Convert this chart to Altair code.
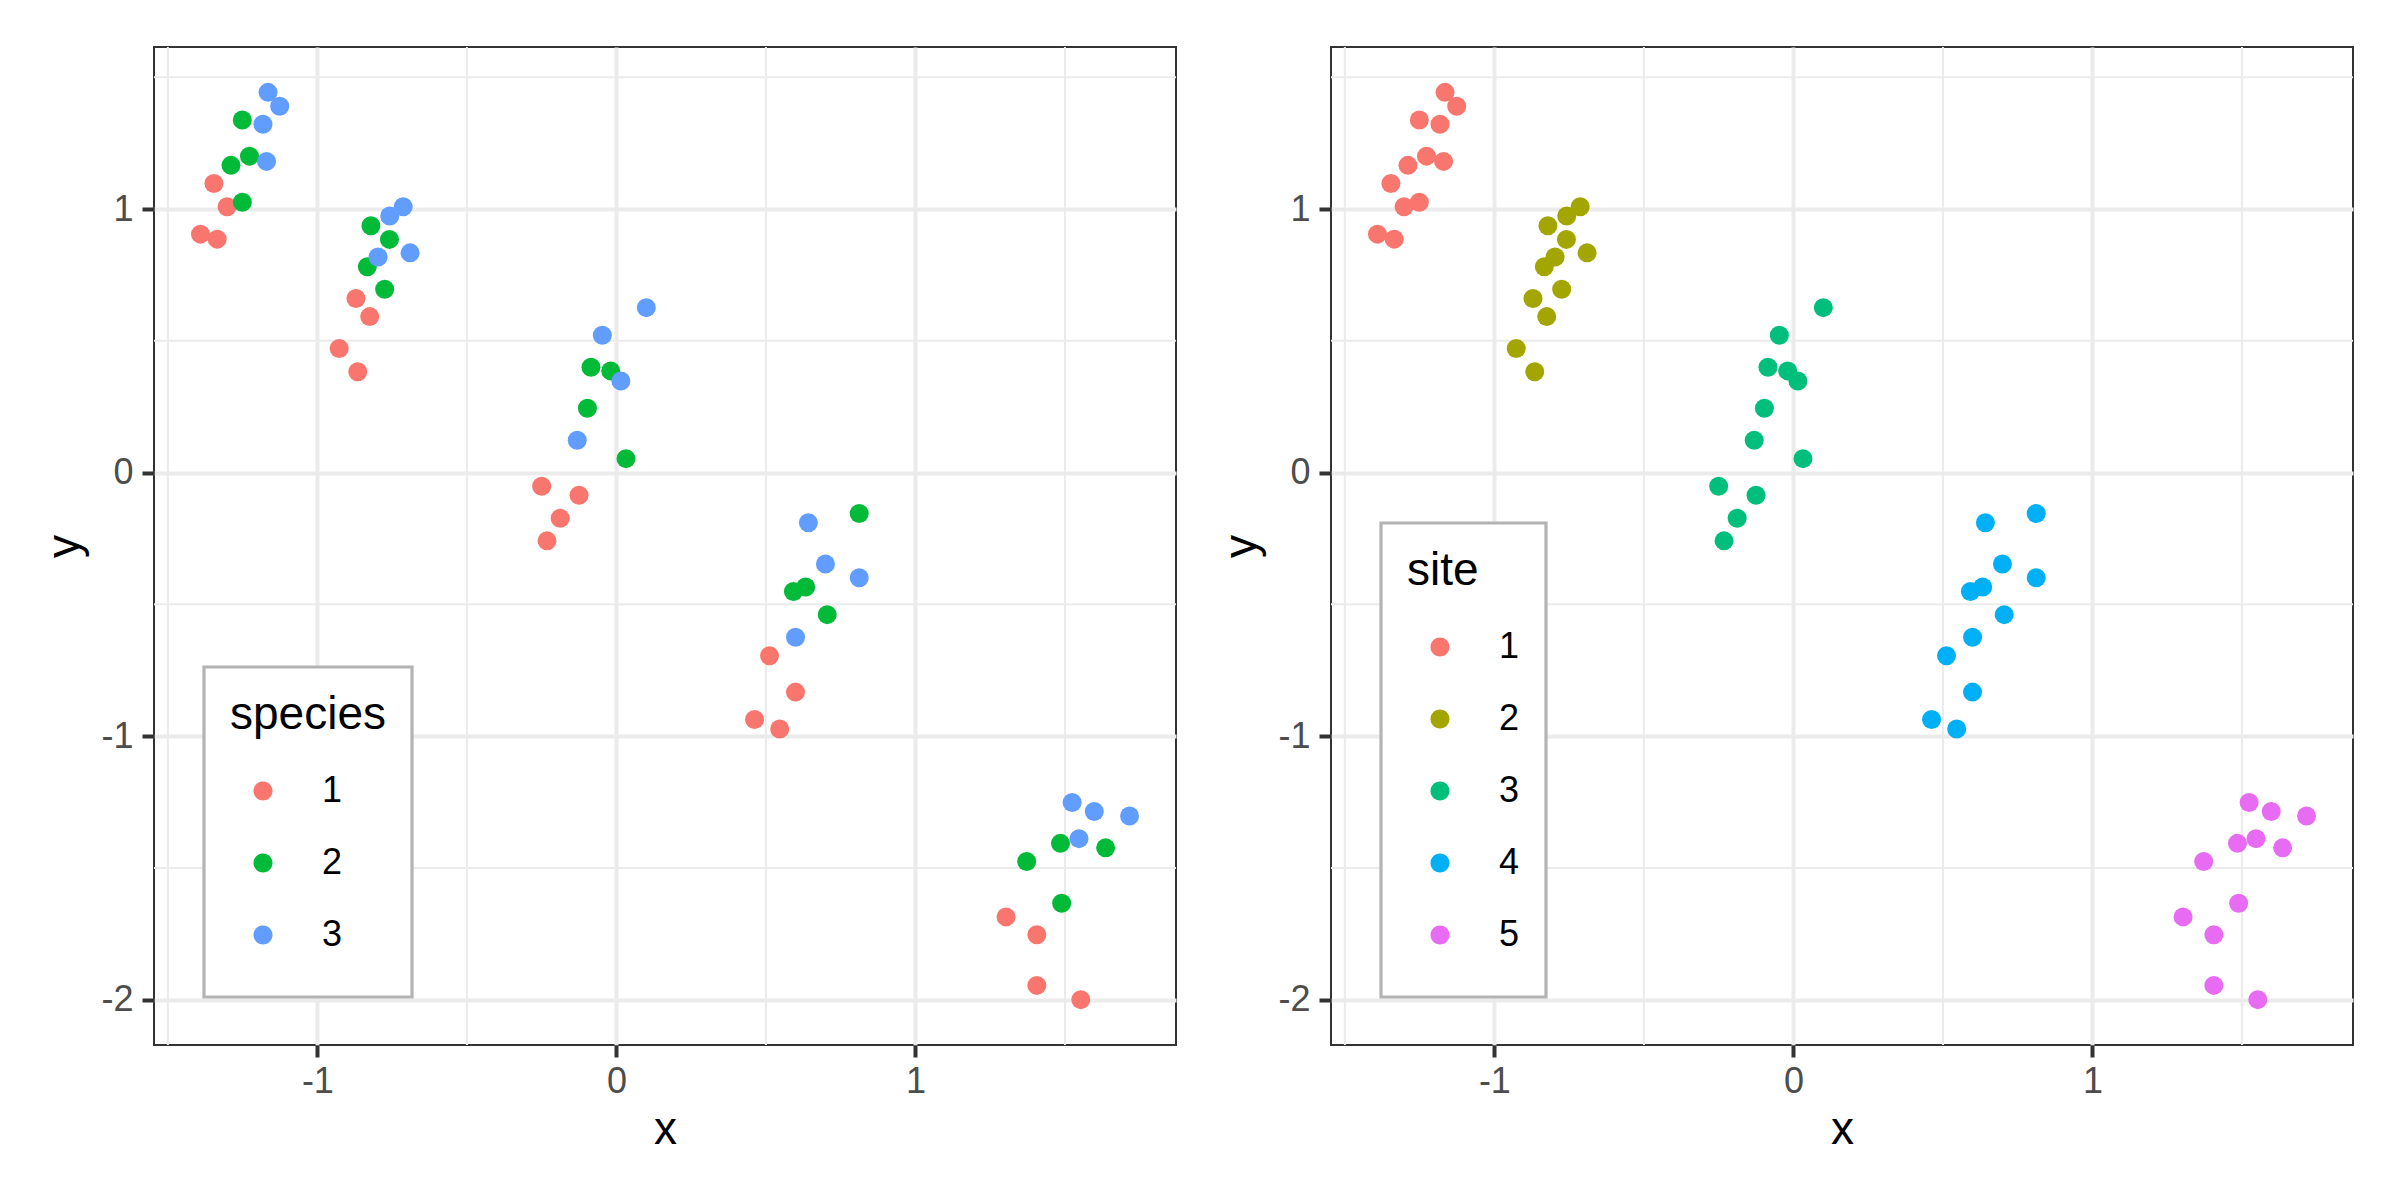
import altair as alt
import pandas as pd

# ---- data ----
site_labels = ["1"] * 12 + ["2"] * 12 + ["3"] * 12 + ["4"] * 12 + ["5"] * 12
species_labels = (["1"] * 4 + ["2"] * 4 + ["3"] * 4) * 5

x_vals = [
    -1.346, -1.302, -1.391, -1.335,
    -1.251, -1.289, -1.227, -1.251,
    -1.165, -1.126, -1.182, -1.170,
    -0.871, -0.825, -0.927, -0.865,
    -0.821, -0.759, -0.833, -0.775,
    -0.713, -0.758, -0.797, -0.690,
    -0.250, -0.125, -0.188, -0.232,
    -0.085, -0.019, -0.097, 0.032,
    0.100, -0.047, 0.015, -0.131,
    0.512, 0.599, 0.462, 0.546,
    0.812, 0.592, 0.633, 0.705,
    0.642, 0.699, 0.812, 0.599,
    1.303, 1.406, 1.406, 1.553,
    1.372, 1.485, 1.636, 1.489,
    1.524, 1.598, 1.716, 1.547,
]
y_vals = [
    1.097, 1.009, 0.905, 0.886,
    1.338, 1.166, 1.201, 1.026,
    1.443, 1.390, 1.322, 1.181,
    0.661, 0.592, 0.471, 0.383,
    0.937, 0.885, 0.781, 0.696,
    1.009, 0.974, 0.818, 0.834,
    -0.052, -0.086, -0.173, -0.259,
    0.400, 0.386, 0.244, 0.053,
    0.626, 0.521, 0.348, 0.123,
    -0.695, -0.833, -0.937, -0.973,
    -0.155, -0.451, -0.434, -0.539,
    -0.190, -0.347, -0.399, -0.625,
    -1.686, -1.754, -1.946, -2.000,
    -1.476, -1.407, -1.424, -1.634,
    -1.252, -1.286, -1.303, -1.389,
]

x_major = [-1, 0, 1]
y_major = [-2, -1, 0, 1]
x_minor = [-1.5, -0.5, 0.5, 1.5]
y_minor = [-1.5, -0.5, 0.5, 1.5]

species_levels = ["1", "2", "3"]
species_colors = ["#F8766D", "#00BA38", "#619CFF"]
site_levels = ["1", "2", "3", "4", "5"]
site_colors = ["#F8766D", "#A3A500", "#00BF7D", "#00B0F6", "#E76BF3"]

df = pd.DataFrame({"x": x_vals, "y": y_vals,
                   "species": species_labels, "site": site_labels})

# ggplot-like 5% expansion of the data range
def expand(vals, f=0.05):
    lo, hi = min(vals), max(vals)
    d = (hi - lo) * f
    return [lo - d, hi + d]

xdom = expand(x_vals)
ydom = expand(y_vals)

FONT = "Liberation Sans"
W, H = 1022, 998

xscale = alt.Scale(domain=xdom, nice=False, zero=False)
yscale = alt.Scale(domain=ydom, nice=False, zero=False)

def xaxis():
    return alt.Axis(values=x_major, labelExpr="'' + datum.value", title="x",
                    tickSize=12, tickWidth=4, tickColor="#333333",
                    labelFont=FONT, labelFontSize=36, labelColor="#4D4D4D",
                    labelPadding=7, titleFont=FONT, titleFontSize=46,
                    titleFontWeight="normal", titleColor="black", titlePadding=8,
                    domain=False, grid=True, gridColor="#EBEBEB", gridWidth=4)

def yaxis():
    return alt.Axis(values=y_major, labelExpr="'' + datum.value", title="y",
                    tickSize=12, tickWidth=4, tickColor="#333333",
                    labelFont=FONT, labelFontSize=36, labelColor="#4D4D4D",
                    labelPadding=9, titleFont=FONT, titleFontSize=46,
                    titleFontWeight="normal", titleColor="black", titlePadding=12,
                    domain=False, grid=True, gridColor="#EBEBEB", gridWidth=4)

# legend key: 72px key box (ggplot style) with a 19px dot in its centre
KEY_PATH = ("M -1 -1 L -1 -1 Z M 1 1 L 1 1 Z "
            "M -0.264 0 A 0.264 0.264 0 1 1 0.264 0 "
            "A 0.264 0.264 0 1 1 -0.264 0 Z")

def panel(field, levels, colors, legend_y):
    vminor = alt.Chart(pd.DataFrame({"x": x_minor})).mark_rule(
        color="#EBEBEB", strokeWidth=2).encode(
        x=alt.X("x:Q", scale=xscale, axis=xaxis()))
    hminor = alt.Chart(pd.DataFrame({"y": y_minor})).mark_rule(
        color="#EBEBEB", strokeWidth=2).encode(
        y=alt.Y("y:Q", scale=yscale, axis=yaxis()))
    pts = alt.Chart(df).mark_circle(size=361, opacity=1).encode(
        x=alt.X("x:Q", scale=xscale, axis=xaxis()),
        y=alt.Y("y:Q", scale=yscale, axis=yaxis()),
        color=alt.Color(f"{field}:N",
                        scale=alt.Scale(domain=levels, range=colors),
                        legend=alt.Legend(
                            title=field, orient="none", legendX=50, legendY=legend_y,
                            padding=26, fillColor="white", strokeColor="#B3B3B3",
                            cornerRadius=0,
                            titleFont=FONT, titleFontSize=46, titleFontWeight="normal",
                            titleColor="black", titlePadding=16, titleLimit=1000,
                            labelFont=FONT, labelFontSize=36, labelColor="black",
                            labelOffset=23, labelLimit=1000,
                            symbolType=KEY_PATH, symbolSize=5184, symbolOffset=-3,
                            symbolStrokeWidth=0, symbolOpacity=1)),
    )
    return alt.layer(vminor, hminor, pts).properties(width=W, height=H)

left = panel("species", species_levels, species_colors, 620)
right = panel("site", site_levels, site_colors, 476)

chart = alt.hconcat(left, right, spacing=39).resolve_scale(
    color="independent"
).resolve_legend(color="independent").properties(
    padding={"left": 32, "top": 37, "right": 5, "bottom": 5}
).configure_view(stroke="#333333", strokeWidth=2
).configure_legend(rowPadding=0, strokeWidth=3.2)

chart.save("out.html", embed_options={"renderer": "svg", "actions": False})
